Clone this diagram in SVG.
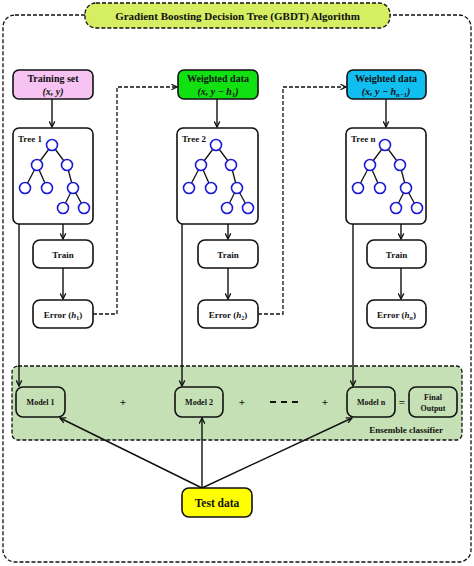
<svg xmlns="http://www.w3.org/2000/svg" width="474" height="566" viewBox="0 0 474 566">
<defs>
<marker id="ah" viewBox="0 0 10 10" refX="9" refY="5" markerWidth="7" markerHeight="7" orient="auto" markerUnits="userSpaceOnUse">
<path d="M1,1 L9,5 L1,9" fill="none" stroke="#111" stroke-width="1.8"/>
</marker>
<g id="tree">
<g stroke="#111" stroke-width="1.3">
<line x1="39" y1="17" x2="24" y2="37"/>
<line x1="39" y1="17" x2="54" y2="37"/>
<line x1="24" y1="37" x2="12" y2="60"/>
<line x1="24" y1="37" x2="34" y2="60"/>
<line x1="54" y1="37" x2="60" y2="60"/>
<line x1="60" y1="60" x2="50" y2="80"/>
<line x1="60" y1="60" x2="71" y2="80"/>
</g>
<g fill="#fff" stroke="#1a1ad8" stroke-width="1.6">
<circle cx="39" cy="17" r="5.5"/>
<circle cx="24" cy="37" r="5.5"/>
<circle cx="54" cy="37" r="5.5"/>
<circle cx="12" cy="60" r="5.5"/>
<circle cx="34" cy="60" r="5.5"/>
<circle cx="60" cy="60" r="5.5"/>
<circle cx="50" cy="80" r="5.5"/>
<circle cx="71" cy="80" r="5.5"/>
</g>
</g>
</defs>
<style>
text{font-family:"Liberation Serif","Times New Roman",serif;font-weight:bold;fill:#111;text-anchor:middle}
.box{stroke:#111;stroke-width:1.6}
.dash{fill:none;stroke:#111;stroke-width:1.3;stroke-dasharray:4 2}
.ln{fill:none;stroke:#111;stroke-width:1.4}
.m{font-style:italic}
.t10{font-size:10px}
.t9{font-size:9px}
.t8{font-size:8px}
.op{font-size:11px}
</style>
<rect width="474" height="566" fill="#fff"/>
<!-- outer frame -->
<rect x="3" y="15" width="468" height="547" rx="12" class="dash"/>
<!-- title -->
<g id="title">
<rect x="85" y="3" width="305" height="25" rx="11" class="dash" style="fill:#d6ee62"/>
<text x="237.5" y="20" font-size="11">Gradient Boosting Decision Tree (GBDT) Algorithm</text>
</g>
<!-- ensemble -->
<g id="ensemble">
<rect x="12" y="366" width="450" height="74" rx="6" class="dash" style="fill:#c5e0b4"/>
<text x="443" y="433" font-size="9" style="text-anchor:end">Ensemble classifier</text>
<text x="123" y="406" class="op">+</text>
<text x="242" y="406" class="op">+</text>
<text x="325" y="406" class="op">+</text>
<text x="402" y="406" class="op">=</text>
<line x1="270" y1="402" x2="298" y2="402" stroke="#111" stroke-width="2" stroke-dasharray="6 5"/>
</g>
<!-- connectors -->
<g id="connectors">
<line x1="52" y1="99" x2="52" y2="127" class="ln" marker-end="url(#ah)"/>
<line x1="217" y1="99" x2="217" y2="127" class="ln" marker-end="url(#ah)"/>
<line x1="386" y1="99" x2="386" y2="127" class="ln" marker-end="url(#ah)"/>
<line x1="63" y1="224" x2="63" y2="239" class="ln" marker-end="url(#ah)"/>
<line x1="228" y1="224" x2="228" y2="239" class="ln" marker-end="url(#ah)"/>
<line x1="401" y1="224" x2="401" y2="239" class="ln" marker-end="url(#ah)"/>
<line x1="63" y1="268" x2="63" y2="299" class="ln" marker-end="url(#ah)"/>
<line x1="228" y1="268" x2="228" y2="299" class="ln" marker-end="url(#ah)"/>
<line x1="401" y1="268" x2="401" y2="299" class="ln" marker-end="url(#ah)"/>
<line x1="19" y1="224" x2="19" y2="386" class="ln" marker-end="url(#ah)"/>
<line x1="182" y1="224" x2="182" y2="386" class="ln" marker-end="url(#ah)"/>
<line x1="353" y1="224" x2="353" y2="386" class="ln" marker-end="url(#ah)"/>
<polyline points="93,314 117,314 117,87 177,87" class="dash" marker-end="url(#ah)"/>
<polyline points="258,314 283,314 283,87 346,87" class="dash" marker-end="url(#ah)"/>
<line x1="202" y1="488" x2="60" y2="418" class="ln" marker-end="url(#ah)"/>
<line x1="202" y1="488" x2="202" y2="418" class="ln" marker-end="url(#ah)"/>
<line x1="202" y1="488" x2="352" y2="418" class="ln" marker-end="url(#ah)"/>
</g>
<!-- input boxes -->
<g id="training">
<rect x="13" y="70" width="80" height="29" rx="6" fill="#f7c3f2" class="box"/>
<text x="53" y="82" class="t10">Training set</text>
<text x="53" y="95" class="t10"><tspan class="m">(x, y)</tspan></text>
</g>
<g id="weighted1">
<rect x="178" y="70" width="80" height="29" rx="6" fill="#11e011" class="box"/>
<text x="218" y="82" class="t10">Weighted data</text>
<text x="218" y="95" class="t10"><tspan class="m">(x, y − h</tspan><tspan font-size="6.5" dy="2">1</tspan><tspan dy="-2" class="m">)</tspan></text>
</g>
<g id="weighted2">
<rect x="347" y="70" width="79" height="29" rx="6" fill="#10bff0" class="box"/>
<text x="386" y="82" class="t10">Weighted data</text>
<text x="386" y="95" class="t10"><tspan class="m">(x, y − h</tspan><tspan font-size="6.5" dy="2" class="m">n−1</tspan><tspan dy="-2" class="m">)</tspan></text>
</g>
<!-- tree boxes -->
<g id="tree1">
<rect x="13" y="128" width="80" height="96" rx="6" fill="#fff" class="box"/>
<text x="18" y="142" class="t9" style="text-anchor:start">Tree 1</text>
<use href="#tree" x="13" y="128"/>
</g>
<g id="tree2">
<rect x="177" y="128" width="81" height="96" rx="6" fill="#fff" class="box"/>
<text x="182" y="142" class="t9" style="text-anchor:start">Tree 2</text>
<use href="#tree" x="177" y="128"/>
</g>
<g id="treen">
<rect x="346" y="128" width="80" height="96" rx="6" fill="#fff" class="box"/>
<text x="351" y="142" class="t9" style="text-anchor:start">Tree n</text>
<use href="#tree" x="346" y="128"/>
</g>
<!-- train boxes -->
<g id="train1"><rect x="33" y="240" width="60" height="28" rx="7" fill="#fff" class="box"/><text x="63" y="258" class="t9">Train</text></g>
<g id="train2"><rect x="198" y="240" width="60" height="28" rx="7" fill="#fff" class="box"/><text x="228" y="258" class="t9">Train</text></g>
<g id="trainn"><rect x="367" y="240" width="59" height="28" rx="7" fill="#fff" class="box"/><text x="396.5" y="258" class="t9">Train</text></g>
<!-- error boxes -->
<g id="error1"><rect x="33" y="300" width="60" height="28" rx="7" fill="#fff" class="box"/><text x="63" y="318" class="t9">Error (<tspan class="m">h</tspan><tspan font-size="6" dy="2">1</tspan><tspan dy="-2">)</tspan></text></g>
<g id="error2"><rect x="198" y="300" width="60" height="28" rx="7" fill="#fff" class="box"/><text x="228" y="318" class="t9">Error (<tspan class="m">h</tspan><tspan font-size="6" dy="2">2</tspan><tspan dy="-2">)</tspan></text></g>
<g id="errorn"><rect x="367" y="300" width="59" height="28" rx="7" fill="#fff" class="box"/><text x="396.5" y="318" class="t9">Error (<tspan class="m">h</tspan><tspan font-size="6" dy="2" class="m">n</tspan><tspan dy="-2">)</tspan></text></g>
<!-- models -->
<g id="model1"><rect x="16" y="387" width="49" height="30" rx="7" fill="#c5e0b4" class="box"/><text x="40.5" y="405" class="t8">Model 1</text></g>
<g id="model2"><rect x="175" y="387" width="48" height="30" rx="7" fill="#c5e0b4" class="box"/><text x="199" y="405" class="t8">Model 2</text></g>
<g id="modeln"><rect x="347" y="387" width="48" height="30" rx="7" fill="#c5e0b4" class="box"/><text x="371" y="405" class="t8">Model n</text></g>
<g id="final"><rect x="409" y="387" width="48" height="30" rx="7" fill="#c5e0b4" class="box"/><text x="433" y="400" class="t8">Final</text><text x="433" y="411" class="t8">Output</text></g>
<!-- test data -->
<g id="testdata"><rect x="182" y="488" width="70" height="29" rx="7" fill="#ffff00" class="box"/><text x="217" y="507" font-size="11.5">Test data</text></g>
</svg>
